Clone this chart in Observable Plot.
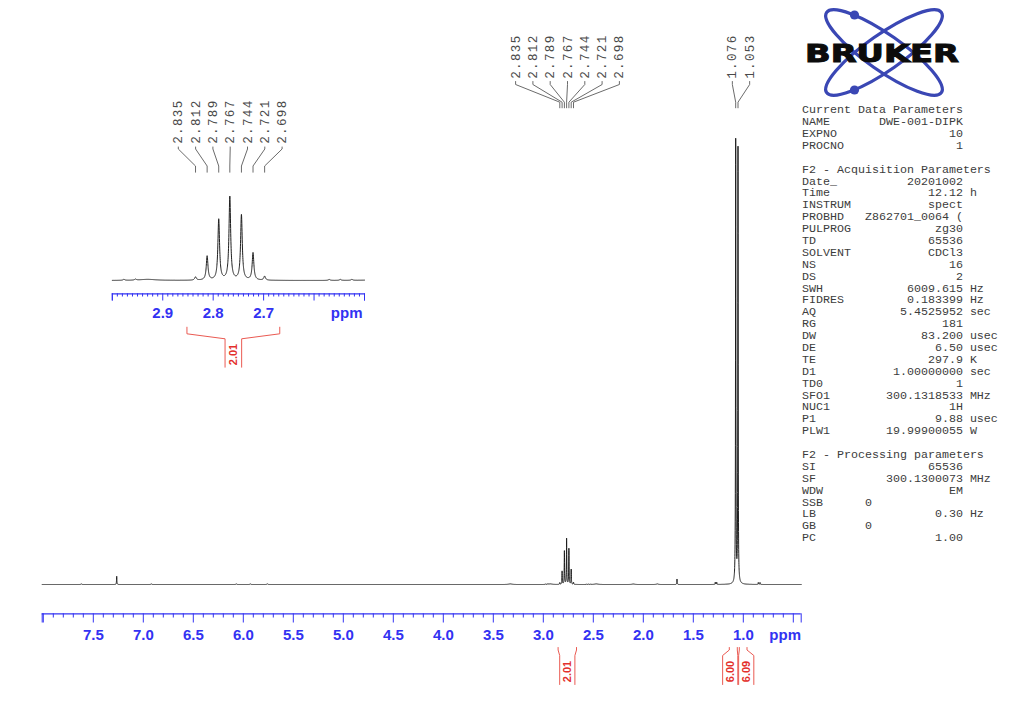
<!DOCTYPE html>
<html><head><meta charset="utf-8">
<script src="https://cdn.jsdelivr.net/npm/d3@7"></script>
<script src="https://cdn.jsdelivr.net/npm/@observablehq/plot@0.6"></script>
<style>
html,body{margin:0;padding:0;background:#fff;}
#wrap{position:relative;width:1024px;height:705px;overflow:hidden;background:#fff;}
#wrap svg.layer{position:absolute;left:0;top:0;background:transparent;max-width:none;overflow:visible;}
g[aria-description="peaklabel"] text{letter-spacing:1.3px;}
#params{position:absolute;left:802px;top:105.2px;margin:0;font-family:"Liberation Mono",monospace;font-size:11.67px;line-height:11.89px;color:#3c3c3c;white-space:pre;}
</style></head>
<body><div id="wrap"></div>
<script>
// ---------------- DATA ----------------
// peak list: chemical shift (ppm), height (main-spectrum px), line width (ppm)
const peakShift  = [7.266, 2.835, 2.812, 2.789, 2.767, 2.744, 2.721, 2.698, 1.663, 1.280, 1.266, 1.076, 1.053, 0.850, 0.833,
                    2.977, 2.954, 2.570, 2.548, 2.525, 7.62, 6.92, 6.07, 5.93, 5.76, 3.33, 2.93, 2.47, 2.10, 1.86];
const peakHeight = [8.3, 1.8, 13.2, 33.3, 45.7, 35.7, 15.0, 2.2, 5.5, 2.3, 2.3, 443, 435, 2.0, 2.0,
                    0.55, 0.55, 0.55, 0.55, 0.55, 0.6, 0.6, 0.6, 0.6, 0.7, 0.6, 0.6, 0.6, 0.5, 0.6];
const peakWidth  = [0.004, 0.004, 0.004, 0.004, 0.004, 0.004, 0.004, 0.004, 0.004, 0.004, 0.004, 0.004, 0.004, 0.004, 0.004,
                    0.004, 0.004, 0.004, 0.004, 0.004, 0.01, 0.01, 0.01, 0.01, 0.01, 0.04, 0.04, 0.04, 0.03, 0.02];

// peak-pick labels
const mainLabelGroups = [[2.835, 2.812, 2.789, 2.767, 2.744, 2.721, 2.698], [1.076, 1.053]];
const insetLabelGroup = [2.835, 2.812, 2.789, 2.767, 2.744, 2.721, 2.698];

// integrals
const integralFrom  = [2.852, 1.140, 1.040];
const integralTo    = [2.668, 1.060, 0.963];
const integralValue = ["2.01", "6.00", "6.09"];
const insetIntegrals = [0];

// axis tick labels
const mainTickLabels  = ["7.5", "7.0", "6.5", "6.0", "5.5", "5.0", "4.5", "4.0", "3.5", "3.0", "2.5", "2.0", "1.5", "1.0"];
const insetTickLabels = ["2.9", "2.8", "2.7"];
const axisUnit = "ppm";

// acquisition / processing parameters
const currentParams = [["NAME", "DWE-001-DIPK", ""], ["EXPNO", "10", ""], ["PROCNO", "1", ""]];
const acqParams = [["Date_", "20201002", ""], ["Time", "12.12", "h"], ["INSTRUM", "spect", ""], ["PROBHD", "Z862701_0064 (", ""],
  ["PULPROG", "zg30", ""], ["TD", "65536", ""], ["SOLVENT", "CDCl3", ""], ["NS", "16", ""], ["DS", "2", ""],
  ["SWH", "6009.615", "Hz"], ["FIDRES", "0.183399", "Hz"], ["AQ", "5.4525952", "sec"], ["RG", "181", ""],
  ["DW", "83.200", "usec"], ["DE", "6.50", "usec"], ["TE", "297.9", "K"], ["D1", "1.00000000", "sec"], ["TD0", "1", ""],
  ["SFO1", "300.1318533", "MHz"], ["NUC1", "1H", ""], ["P1", "9.88", "usec"], ["PLW1", "19.99900055", "W"]];
const procParams = [["SI", "65536", ""], ["SF", "300.1300073", "MHz"], ["WDW", "EM", ""], ["SSB", "0", "", "left"],
  ["LB", "0.30", "Hz"], ["GB", "0", "", "left"], ["PC", "1.00", ""]];

// ---------------- LAYOUT ----------------
const W = 1024, H = 705;
const blue = "#3232f2", red = "#e3302c", redLine = "#ea5a52", gray = "#5a5a5a";
const MAIN = {x0: 8.011, x1: 0.421, left: 41.7, right: 800.7, base: 584};
const INS  = {x0: 3.0, x1: 2.5, left: 111.8, right: 364, base: 280, scale: 1.823};
const mPx = p => MAIN.left + (MAIN.x0 - p) / (MAIN.x0 - MAIN.x1) * (MAIN.right - MAIN.left);
const mPpm = px => MAIN.x0 - (px - MAIN.left) / (MAIN.right - MAIN.left) * (MAIN.x0 - MAIN.x1);
const iPx = p => INS.left + (INS.x0 - p) / (INS.x0 - INS.x1) * (INS.right - INS.left);
const iPpm = px => INS.x0 - (px - INS.left) / (INS.right - INS.left) * (INS.x0 - INS.x1);
const mY = py => MAIN.base - py;
const iY = py => INS.base - py;

function intensity(x) {
  let s = 0;
  for (let k = 0; k < peakShift.length; k++) {
    const d = (x - peakShift[k]) / (peakWidth[k] / 2);
    s += peakHeight[k] / (1 + d * d);
  }
  return s;
}
function sample(a, b, step, f) {
  const xs = [];
  const n = Math.round((a - b) / step);
  for (let k = 0; k <= n; k++) xs.push(a - k * step);
  peakShift.forEach(p => { if (p < a && p > b) xs.push(p); });
  xs.sort((u, v) => v - u);
  return xs.map(x => ({ppm: x, i: intensity(x) * f}));
}

// ---------- axis helpers ----------
function axisMarks(cfg) {
  const {lo, hi, minorStep, majorEvery, yLine, yMinor, yMajor, yLabel, labels, xUnit, font} = cfg;
  const ticks = [];
  const n0 = Math.ceil(lo / minorStep - 1e-6), n1 = Math.floor(hi / minorStep + 1e-6);
  for (let k = n0; k <= n1; k++) ticks.push({v: k * minorStep, major: k % majorEvery === 0});
  ticks.push({v: lo, major: true}, {v: hi, major: true});
  return [
    Plot.ruleY([{y: yLine, a: lo, b: hi}], {y: "y", x1: "a", x2: "b", stroke: blue, strokeWidth: 1.3}),
    Plot.ruleX(ticks, {x: "v", y1: yLine, y2: d => d.major ? yMajor : yMinor, stroke: blue, strokeWidth: 1}),
    Plot.text(labels, {x: d => +d, y: yLabel, text: d => d, fill: blue, fontWeight: "bold", fontSize: font, fontFamily: "Liberation Sans, Arial, sans-serif"}),
    Plot.text([axisUnit], {x: xUnit, y: yLabel, text: d => d, textAnchor: "end", fill: blue, fontWeight: "bold", fontSize: font, fontFamily: "Liberation Sans, Arial, sans-serif"})
  ];
}

// ---------- peak label helpers ----------
function peakLabels(groups, centersPx, toPpm, toPx, yv, geo) {
  const texts = [], leaders = [];
  groups.forEach((g, gi) => {
    const c = centersPx[gi];
    g.forEach((p, k) => {
      const lx = c + (k - (g.length - 1) / 2) * 17.3;
      const id = gi + "-" + k;
      texts.push({x: toPpm(lx), y: yv(geo.textBottom), t: p.toFixed(3)});
      const pxp = toPx(p);
      leaders.push({id, x: toPpm(lx), y: yv(geo.top)}, {id, x: toPpm(lx), y: yv(geo.knee)},
                   {id, x: toPpm(pxp), y: yv(geo.diag)}, {id, x: toPpm(pxp), y: yv(geo.end)});
    });
  });
  return [
    Plot.line(leaders, {x: "x", y: "y", z: "id", stroke: gray, strokeWidth: 0.9}),
    Plot.text(texts, {x: "x", y: "y", text: "t", rotate: -90, textAnchor: "start", fill: "#4a4a4a", fontSize: 12.6,
      fontFamily: "Liberation Mono, DejaVu Sans Mono, monospace", ariaDescription: "peaklabel"})
  ];
}

// ---------- integral helpers ----------
function integralMarks(idx, toPx, toPpm, yv, geo) {
  const items = idx.map(k => {
    const a = toPx(integralFrom[k]), b = toPx(integralTo[k]);
    return {k, a, b, c: (a + b) / 2};
  }).sort((u, v) => u.c - v.c);
  for (let j = 1; j < items.length; j++) {
    const gap = items[j].c - items[j - 1].c;
    if (gap < 16) { const s = (16 - gap) / 2; items[j - 1].c -= s; items[j].c += s; }
  }
  const pts = [], txt = [];
  items.forEach(it => {
    const l = it.c - geo.hw, r = it.c + geo.hw;
    [["L", it.a, l], ["R", it.b, r]].forEach(([side, x0, x1]) => {
      const id = it.k + side;
      pts.push({id, x: toPpm(x0), y: yv(geo.top)}, {id, x: toPpm(x0), y: yv(geo.knee)},
               {id, x: toPpm(x1), y: yv(geo.slant)}, {id, x: toPpm(x1), y: yv(geo.bottom)});
    });
    txt.push({x: toPpm(it.c), y: yv(geo.textMid), t: integralValue[it.k]});
  });
  return [
    Plot.line(pts, {x: "x", y: "y", z: "id", stroke: redLine, strokeWidth: 1}),
    Plot.text(txt, {x: "x", y: "y", text: "t", rotate: -90, fill: red, fontWeight: "bold", fontSize: 11,
      fontFamily: "Liberation Sans, Arial, sans-serif"})
  ];
}

// ---------------- MAIN SPECTRUM ----------------
const mainData = sample(MAIN.x0, MAIN.x1, 0.0005, 1);
const mainPlot = Plot.plot({
  width: W, height: H,
  marginLeft: MAIN.left, marginRight: W - MAIN.right, marginTop: 0, marginBottom: H - MAIN.base,
  x: {domain: [MAIN.x0, MAIN.x1], axis: null},
  y: {domain: [0, MAIN.base], axis: null},
  marks: [
    Plot.line(mainData, {x: "ppm", y: "i", stroke: "#1e1e1e", strokeWidth: 1}),
    ...axisMarks({lo: MAIN.x1, hi: MAIN.x0, minorStep: 0.1, majorEvery: 5, yLine: mY(613.3), yMinor: mY(617.5),
      yMajor: mY(622.5), yLabel: mY(634.5), labels: mainTickLabels, xUnit: mPpm(800.5), font: 15}),
    ...peakLabels(mainLabelGroups, [567, 740.5], mPpm, mPx, mY,
      {textBottom: 78.3, top: 81, knee: 84, diag: 101.7, end: 107.3}),
    ...integralMarks([0, 1, 2], mPx, mPpm, mY,
      {top: 647, knee: 649.5, slant: 655, bottom: 684, hw: 7.6, textMid: 671})
  ]
});

// ---------------- INSET (expansion 3.0 - 2.5 ppm) ----------------
const insetData = sample(INS.x0, INS.x1, 0.0002, INS.scale);
const insetPlot = Plot.plot({
  width: W, height: H,
  marginLeft: INS.left, marginRight: W - INS.right, marginTop: 0, marginBottom: H - INS.base,
  x: {domain: [INS.x0, INS.x1], axis: null},
  y: {domain: [0, INS.base], axis: null},
  marks: [
    Plot.line(insetData, {x: "ppm", y: "i", stroke: "#1e1e1e", strokeWidth: 1}),
    ...axisMarks({lo: INS.x1, hi: INS.x0, minorStep: 0.01, majorEvery: 10, yLine: iY(293.3), yMinor: iY(296.5),
      yMajor: iY(300.5), yLabel: iY(313), labels: insetTickLabels, xUnit: iPpm(362), font: 15}),
    ...peakLabels([insetLabelGroup], [229.7], iPpm, iPx, iY,
      {textBottom: 143.3, top: 146.5, knee: 148.5, diag: 165.5, end: 171.7}),
    ...integralMarks(insetIntegrals, iPx, iPpm, iY,
      {top: 326.7, knee: 333.3, slant: 338.3, bottom: 366.7, hw: 8.3, textMid: 354})
  ]
});

const wrap = document.getElementById("wrap");
[mainPlot, insetPlot].forEach(s => {
  s.classList.add("layer");
  s.style.background = "transparent";
  s.style.position = "absolute";
  s.style.left = "0px"; s.style.top = "0px";
  s.style.maxWidth = "none";
  wrap.appendChild(s);
});

// ---------------- LOGO ----------------
const NS = "http://www.w3.org/2000/svg";
const logo = document.createElementNS(NS, "svg");
logo.setAttribute("width", W); logo.setAttribute("height", 110);
logo.setAttribute("class", "layer");
logo.innerHTML = `
  <g transform="translate(884,52.5)" fill="none" stroke="#3a47b4" stroke-width="3.3">
    <ellipse rx="70" ry="18" transform="rotate(35)"/>
    <ellipse rx="70" ry="18" transform="rotate(-35)"/>
  </g>
  <circle cx="854.5" cy="15" r="4.6" fill="#3a47b4"/>
  <circle cx="854.5" cy="90" r="4.6" fill="#3a47b4"/>
  <text x="805" y="61.7" font-family="DejaVu Sans, Liberation Sans, sans-serif" font-weight="bold" font-size="24"
        textLength="154" lengthAdjust="spacingAndGlyphs" fill="#0c0c0c" stroke="#0c0c0c" stroke-width="1">BRUKER</text>`;
wrap.appendChild(logo);

// ---------------- PARAMETERS ----------------
function fmt(r) {
  const [lab, val, unit, mode] = r;
  if (mode === "left") return lab.padEnd(9) + val;
  const sp = Math.max(1, 23 - lab.length - val.length);
  return lab + " ".repeat(sp) + val + (unit ? " " + unit : "");
}
const lines = ["Current Data Parameters", ...currentParams.map(fmt), "",
  "F2 - Acquisition Parameters", ...acqParams.map(fmt), "",
  "F2 - Processing parameters", ...procParams.map(fmt)];
const pre = document.createElement("pre");
pre.id = "params";
pre.textContent = lines.join("\n");
wrap.appendChild(pre);
</script>
</body></html>
